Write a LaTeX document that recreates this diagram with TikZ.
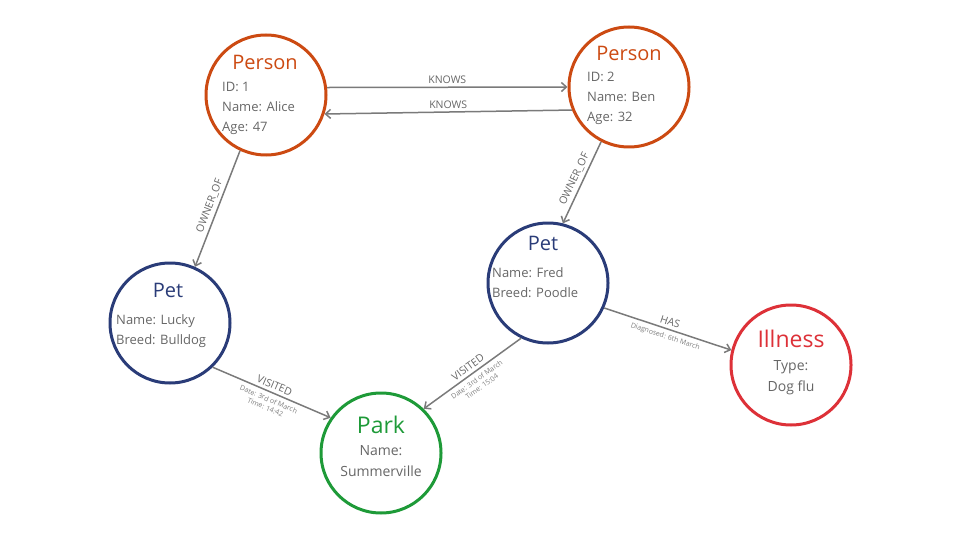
\documentclass[tikz,border=0pt]{standalone}
\usepackage{fontspec}
\setmainfont{Open Sans}
\usetikzlibrary{arrows.meta}
\definecolor{corange}{HTML}{CC4A12}
\definecolor{cnavy}{HTML}{2A3C78}
\definecolor{cgreen}{HTML}{1E9A38}
\definecolor{cred}{HTML}{DD3138}
\definecolor{cedge}{HTML}{7A7A7A}
\definecolor{ctext}{HTML}{666666}
\begin{document}
\begin{tikzpicture}[x=1pt,y=-1pt,
  ent/.style={circle,draw=#1,line width=3pt,minimum size=120pt,inner sep=0pt},
  ttl/.style={text=#1,font=\fontsize{20}{24}\selectfont},
  body/.style={text=ctext,font=\fontsize{13}{20}\selectfont,align=left,anchor=north west,inner sep=0pt},
  bodyc/.style={text=ctext,font=\fontsize{14}{21}\selectfont,align=center,anchor=north,inner sep=0pt},
  rel/.style={draw=cedge,line width=1.5pt,-{Straight Barb[length=5pt,width=9pt]}},
  lab/.style={text=ctext,font=\fontsize{10.5}{12}\selectfont,inner sep=3pt},
  sml/.style={text=ctext!85,font=\fontsize{7}{8.5}\selectfont,align=center,inner sep=1pt}]
\useasboundingbox (0,0) rectangle (960,540);
\node[ent=corange] (alice) at (266,95) {};
\node[ent=corange] (ben) at (629,87) {};
\node[ent=cnavy] (lucky) at (170,323) {};
\node[ent=cnavy] (fred) at (548,283) {};
\node[ent=cgreen] (park) at (381,453) {};
\node[ent=cred] (ill) at (791,365) {};

\node[ttl=corange] (t1) at (265,62) {Person};
\node[body] (b1) at (222,82) {ID: 1\\Name: Alice\\Age: 47};
\node[ttl=corange] (t2) at (629,53) {Person};
\node[body] (b2) at (587,72) {ID: 2\\Name: Ben\\Age: 32};
\node[ttl=cnavy] (t3) at (168,290) {Pet};
\node[body] (b3) at (116,314) {Name: Lucky\\Breed: Bulldog};
\node[ttl=cnavy] (t4) at (543,243) {Pet};
\node[body] (b4) at (492,267) {Name: Fred\\Breed: Poodle};
\node[ttl=cgreen,font=\fontsize{23}{27}\selectfont] (t5) at (381,425) {Park};
\node[bodyc] (b5) at (381,445) {Name:\\Summerville};
\node[ttl=cred,font=\fontsize{23}{27}\selectfont] (t6) at (791,339) {Illness};
\node[bodyc] (b6) at (791,360) {Type:\\Dog flu};

\draw[rel] (alice.7) -- node[lab,above] {KNOWS} (ben.180);
\draw[rel] (ben.202) -- node[lab,above] {KNOWS} (alice.-18);
\draw[rel] (alice.245) -- node[lab,sloped,above] {OWNER\_OF} (lucky.66);
\draw[rel] (ben.243) -- node[lab,sloped,above] {OWNER\_OF} (fred.76);
\draw[rel] (lucky.-46) -- node[lab,sloped,above] {VISITED} node[sml,sloped,below=3pt] {Date: 3rd of March\\Time: 14:42} (park.145);
\draw[rel] (fred.244) -- node[lab,sloped,above] {VISITED} node[sml,sloped,below=3pt] {Date: 3rd of March\\Time: 15:04} (park.46);
\draw[rel] (fred.-24) -- node[lab,sloped,above] {HAS} node[sml,sloped,below=3pt] {Diagnosed: 6th March} (ill.166);
\end{tikzpicture}
\end{document}
